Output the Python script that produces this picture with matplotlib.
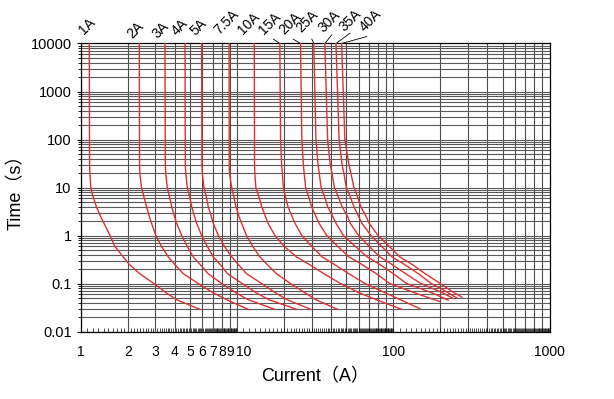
import numpy as np
import matplotlib.pyplot as plt
import matplotlib.transforms as mtransforms
from matplotlib.ticker import LogLocator, NullFormatter

plt.rcParams['font.family'] = ['Liberation Sans', 'Noto Sans CJK SC', 'DejaVu Sans']

# fuse ratings
ratings = ['1A', '2A', '3A', '4A', '5A', '7.5A', '10A',
           '15A', '20A', '25A', '30A', '35A', '40A']

# time points (s), shared by the small fuses
t_low = [10000, 30, 20, 10, 7, 4, 2.5, 1.8, 1, 0.6, 0.36, 0.25, 0.16, 0.1, 0.065, 0.046, 0.029]
i_1A = [1.135, 1.14, 1.145, 1.16, 1.19, 1.26, 1.34, 1.41, 1.54, 1.65, 1.87, 2.05, 2.39, 2.94, 3.5, 4.11, 5.8]
i_2A = [2.37, 2.38, 2.39, 2.45, 2.52, 2.64, 2.75, 2.84, 3.03, 3.28, 3.63, 4.0, 4.54, 5.65, 7.0, 8.6, 11.8]
i_3A = [3.46, 3.48, 3.5, 3.58, 3.68, 3.82, 3.98, 4.11, 4.43, 4.8, 5.25, 5.8, 6.55, 7.98, 9.8, 11.8, 17.5]
i_4A = [4.65, 4.67, 4.7, 4.81, 4.95, 5.13, 5.35, 5.52, 5.94, 6.45, 7.05, 7.8, 8.7, 10.8, 13.2, 16, 24.2]
i_5A = [5.94, 5.97, 6.0, 6.15, 6.33, 6.55, 6.85, 7.05, 7.6, 8.3, 9.25, 10.2, 11.5, 14.4, 17.5, 21, 29.7]
i_7A5 = [8.9, 8.92, 8.95, 9.25, 9.5, 9.85, 10.3, 10.7, 11.5, 12.6, 14.0, 15.6, 17.9, 22, 27, 32, 44]
i_10A = [12.9, 12.95, 13.0, 13.2, 13.7, 14.4, 15.2, 15.8, 17.5, 20, 24, 29, 36, 46, 60, 78, 113]

# larger fuses: common upper part, own tail end
t_high = [10000, 100, 30, 20, 10, 7, 4, 2.5, 1.8, 1, 0.6, 0.36, 0.25, 0.16, 0.1]
t_15A = t_high + [0.05, 0.030]
i_15A = [18.8, 19.0, 19.3, 19.5, 19.8, 20.3, 21.2, 22.5, 23.5, 26, 30, 35, 42, 52, 66, 105, 148]
t_20A = t_high + [0.06, 0.042]
i_20A = [25.5, 26.0, 26.6, 26.9, 27.5, 28.5, 30, 32, 33.5, 37.5, 44, 52, 63, 78, 95, 145, 199]
t_25A = t_high + [0.065, 0.045]
i_25A = [31, 32, 33, 33.6, 34.5, 36, 38, 41, 43, 48, 57, 68, 82, 100, 122, 175, 225]
t_30A = t_high + [0.07, 0.049]
i_30A = [36.5, 38, 39.5, 40.5, 42, 44, 47, 51, 53, 60, 70, 82, 98, 120, 150, 195, 242]
t_35A = t_high + [0.07, 0.050]
i_35A = [43, 45, 47, 48.3, 50, 52.5, 56, 60, 63, 72, 84, 98, 118, 145, 175, 215, 255]
t_40A = t_high + [0.07, 0.052]
i_40A = [46.7, 49, 52, 53.5, 56, 58.5, 62, 67, 70, 80, 94, 110, 132, 160, 200, 235, 275]

curves = [(t_low, i_1A), (t_low, i_2A), (t_low, i_3A), (t_low, i_4A),
          (t_low, i_5A), (t_low, i_7A5), (t_low, i_10A),
          (t_15A, i_15A), (t_20A, i_20A), (t_25A, i_25A),
          (t_30A, i_30A), (t_35A, i_35A), (t_40A, i_40A)]

# label anchor positions (current, axes-fraction height)
label_x = [1.05, 2.15, 3.09, 4.11, 5.39, 7.71, 10.95, 14.9, 20.0, 25.9, 35.6, 49.0, 65.8]
label_y = [1.03, 1.015, 1.015, 1.026, 1.026, 1.03, 1.03, 1.03, 1.03, 1.035, 1.035, 1.041, 1.041]
# leader lines for the crowded labels: start (current, frac) -> curve top
lead_x = [17.1, 22.9, 30.1, 40.4, 52.9, 67.6]
lead_y = [1.015, 1.015, 1.015, 1.03, 1.036, 1.024]

fig = plt.figure(figsize=(6.14, 3.99), dpi=100)
ax = fig.add_axes([0.1314, 0.169, 0.7637, 0.722])
ax.set_xscale('log'); ax.set_yscale('log')
ax.set_xlim(1, 1000); ax.set_ylim(0.01, 10000)

# grid
for dec in [1, 10, 100]:
    for m in range(1, 10):
        ax.axvline(m*dec, color='0.3', lw=0.8, zorder=1)
for dec in [0.01, 0.1, 1, 10, 100, 1000]:
    for m in range(1, 10):
        ax.axhline(m*dec, color='0.35', lw=0.8, zorder=1)

for (t, i) in curves:
    ax.plot(i, t, color='#e03030', lw=1.0, zorder=3)

trans = mtransforms.blended_transform_factory(ax.transData, ax.transAxes)
for k, name in enumerate(ratings):
    ax.text(label_x[k], label_y[k], name, transform=trans, rotation=45,
            rotation_mode='anchor', ha='left', va='baseline', fontsize=10)
for k in range(6):
    top = curves[7 + k][1][0]
    ax.plot([lead_x[k], top], [lead_y[k], 1.0], transform=trans,
            color='black', lw=0.6, clip_on=False)

ax.set_yticks([0.01, 0.1, 1, 10, 100, 1000, 10000])
ax.set_yticklabels(['0.01', '0.1', '1', '10', '100', '1000', '10000'])
xt = [1, 2, 3, 4, 5, 6, 7, 8, 9, 10, 100, 1000]
ax.set_xticks(xt)
ax.set_xticklabels([str(v) for v in xt])
ax.xaxis.set_minor_locator(LogLocator(base=10, subs=np.arange(1.0, 10.0, 0.1), numticks=100))
ax.xaxis.set_minor_formatter(NullFormatter())
ax.tick_params(axis='x', which='minor', direction='in', length=3, width=0.5)
ax.tick_params(axis='x', which='major', length=0, pad=10, labelsize=10)
ax.tick_params(axis='y', which='major', length=3, labelsize=10.5)
ax.tick_params(axis='y', which='minor', length=2)
for s in ax.spines.values():
    s.set_color('black'); s.set_linewidth(0.9)

# the "10" label sits just right of the crowded 6-9 labels
shift = mtransforms.ScaledTranslation(5/72, 0, fig.dpi_scale_trans)
for lab in ax.get_xticklabels():
    if lab.get_text() == '10':
        lab.set_transform(lab.get_transform() + shift)

ax.set_xlabel('Current（A）', fontsize=13, labelpad=6)
ax.set_ylabel('Time（s）', fontsize=13, labelpad=4)

fig.savefig('out.png', dpi=100)
